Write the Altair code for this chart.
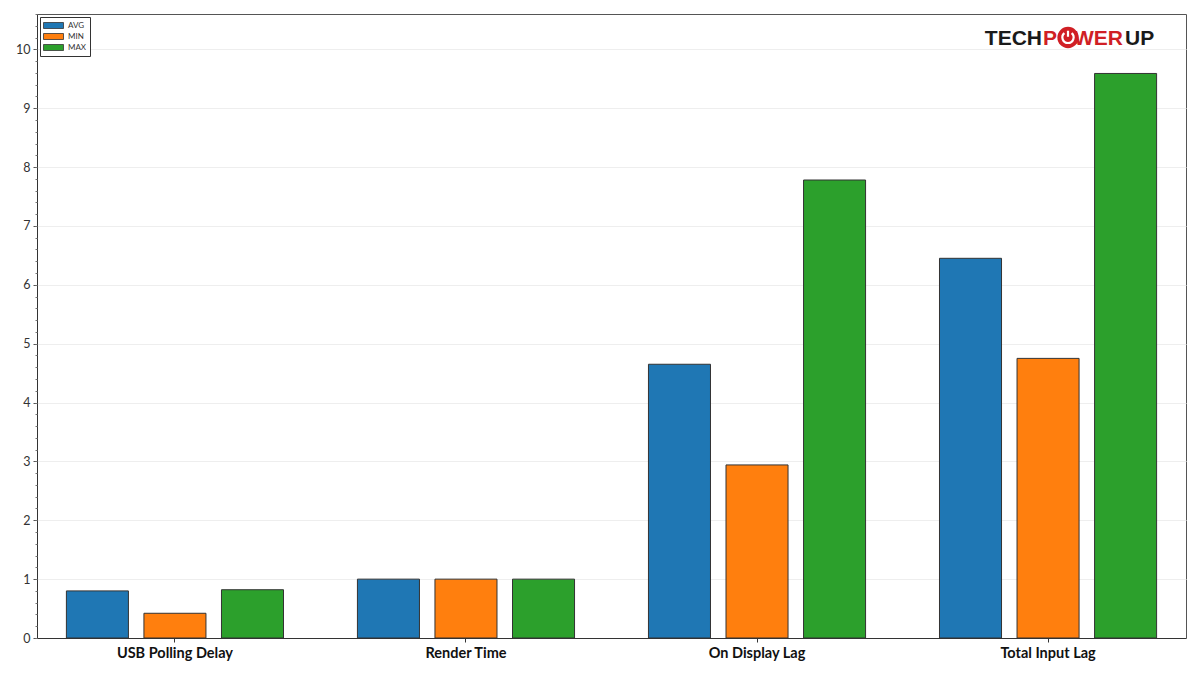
import altair as alt
import pandas as pd

categories = ["USB Polling Delay", "Render Time", "On Display Lag", "Total Input Lag"]
series = ["AVG", "MIN", "MAX"]
avg_vals = [0.80, 1.00, 4.65, 6.45]
min_vals = [0.42, 1.00, 2.94, 4.75]
max_vals = [0.82, 1.00, 7.78, 9.59]
colors = ["#1f77b4", "#ff7f0e", "#2ca02c"]
major_ticks = [0, 1, 2, 3, 4, 5, 6, 7, 8, 9, 10]
minor_ticks = [round(i * 0.2, 1) for i in range(0, 54)]

rows = []
for s, vals in zip(series, [avg_vals, min_vals, max_vals]):
    for c, v in zip(categories, vals):
        rows.append({"category": c, "series": s, "value": v})
df = pd.DataFrame(rows)

yscale = alt.Scale(domain=[0, 10.6], nice=False, zero=True)
FONT = "Lato"

bars = alt.Chart(df).mark_bar(stroke="#333333", strokeWidth=1).encode(
    x=alt.X("category:N", sort=categories,
            scale=alt.Scale(paddingInner=0.254, paddingOuter=0.101),
            axis=alt.Axis(title=None, labelAngle=0, labelFont=FONT, labelFontWeight="bold",
                          labelFontSize=14.5, labelColor="#111111", tickSize=4,
                          tickColor="#333333", domainColor="#333333", labelPadding=4)),
    xOffset=alt.XOffset("series:N", sort=series,
                        scale=alt.Scale(paddingInner=0.2, paddingOuter=0)),
    y=alt.Y("value:Q", scale=yscale,
            axis=alt.Axis(title=None, values=major_ticks, grid=True, gridColor="#eeeeee",
                          labelFont=FONT, labelFontSize=12.5, labelColor="#333333",
                          tickSize=4, tickColor="#555555", domainColor="#333333",
                          labelPadding=3)),
    color=alt.Color("series:N", sort=series,
                    scale=alt.Scale(domain=series, range=colors),
                    legend=alt.Legend(title=None, orient="none", legendX=3, legendY=3,
                                      symbolType="M-1,-0.6H3V0.6H-1Z", symbolSize=100,
                                      symbolStrokeColor="#333333", symbolStrokeWidth=0.8,
                                      labelFont=FONT, labelFontSize=8, labelColor="#333333",
                                      labelOffset=14, rowPadding=0, padding=3,
                                      strokeColor="#333333", fillColor="white",
                                      cornerRadius=0)),
)

minor = alt.Chart(pd.DataFrame({"v": minor_ticks})).mark_point(opacity=0).encode(
    y=alt.Y("v:Q", scale=yscale,
            axis=alt.Axis(orient="left", title=None, values=minor_ticks, labels=False,
                          grid=False, domain=False, tickSize=2, tickColor="#777777"))
)

logo_df = pd.DataFrame({"a": [0]})
RED = "#d01f25"
LOGO_FONT = "Liberation Sans"

def logo_text(txt, x, color, align):
    return alt.Chart(logo_df).mark_text(
        text=txt, font=LOGO_FONT, fontWeight="bold", fontSize=21, color=color,
        align=align, baseline="alphabetic"
    ).encode(x=alt.value(x), y=alt.value(31))

tech = logo_text("TECH", 1005, "#1a1a1a", "right")
p = logo_text("P", 1006, RED, "left")
wer = logo_text("WER", 1086, RED, "right")
up = logo_text("UP", 1088, "#1a1a1a", "left")
circ = alt.Chart(logo_df).mark_point(shape="circle", filled=True, color=RED, size=452, opacity=1).encode(
    x=alt.value(1031), y=alt.value(23.5))
power = alt.Chart(logo_df).mark_point(
    shape="M-0.45,-0.55A0.7,0.7 0 1 0 0.45,-0.55M0,-0.85V-0.1",
    filled=False, stroke="white", strokeWidth=2.2, size=256, opacity=1).encode(
    x=alt.value(1031), y=alt.value(23.5))

chart = alt.layer(bars, minor, circ, power, tech, p, wer, up).resolve_axis(
    y="independent"
).properties(
    width=1149, height=624,
    autosize=alt.AutoSizeParams(type="none"),
    padding={"left": 29, "top": 6, "right": 6, "bottom": 30},
    background="white",
).configure_view(stroke="#555555", strokeWidth=1)

chart.save("out.html", embed_options={"renderer": "svg", "actions": False})
